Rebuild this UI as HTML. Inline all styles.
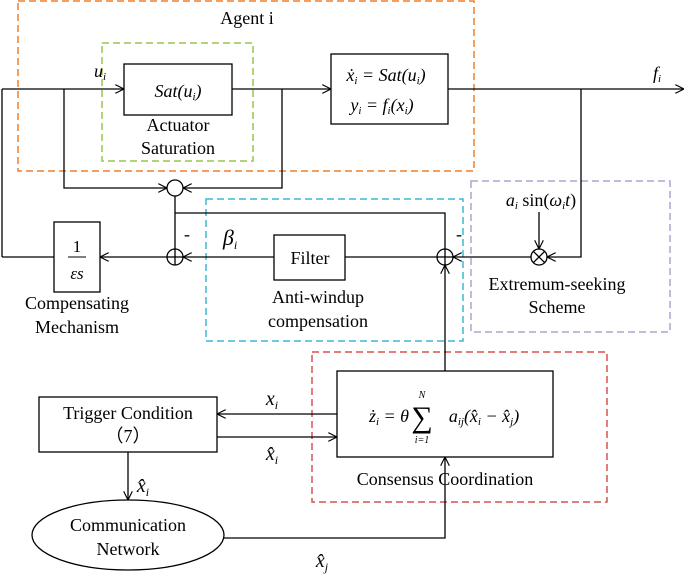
<!DOCTYPE html>
<html><head><meta charset="utf-8"><style>
html,body{margin:0;padding:0;background:#fff}
svg text{font-family:"Liberation Serif",serif;fill:#000}
</style></head><body>
<svg width="685" height="575" viewBox="0 0 685 575" xmlns="http://www.w3.org/2000/svg">
<defs>
<marker id="a" viewBox="0 0 10 10" refX="10" refY="5" markerWidth="9" markerHeight="9" orient="auto" markerUnits="userSpaceOnUse"><path d="M0,0 L10,5 L0,10" fill="none" stroke="#000" stroke-width="1.3"/></marker>
</defs>
<g fill="none" stroke-dasharray="7,4" stroke-width="1.5">
<rect x="18" y="1" width="456" height="170" stroke="#f07f2a"/>
<rect x="102" y="43" width="151" height="118" stroke="#9cc44e"/>
<rect x="206" y="199" width="257" height="142" stroke="#3fb5d4"/>
<rect x="471" y="181" width="199" height="151" stroke="#b3a2cf"/>
<rect x="312" y="352" width="295" height="150" stroke="#d9534f"/>
</g>
<g fill="none" stroke="#000" stroke-width="1.3">
<rect x="124" y="64" width="108" height="51"/>
<rect x="331" y="54" width="117" height="70"/>
<rect x="274" y="235" width="71" height="45"/>
<rect x="54" y="222" width="46" height="70"/>
<rect x="337" y="371" width="216" height="86"/>
<rect x="39" y="397" width="178" height="55"/>
<ellipse cx="128" cy="535" rx="96" ry="35"/>
<line x1="2" y1="89" x2="124" y2="89" marker-end="url(#a)"/>
<line x1="232" y1="89" x2="331" y2="89" marker-end="url(#a)"/>
<line x1="448" y1="89" x2="684" y2="89" marker-end="url(#a)"/>
<line x1="2" y1="89" x2="2" y2="257"/>
<line x1="2" y1="257" x2="54" y2="257"/>
<polyline points="64,89 64,188 167,188" marker-end="url(#a)"/>
<polyline points="282,89 282,188 183,188" marker-end="url(#a)"/>
<circle cx="175" cy="188" r="8"/>
<line x1="175" y1="196" x2="175" y2="249"/>
<polyline points="175,213 445,213 445,249"/>
<circle cx="175" cy="257" r="8"/><line x1="167" y1="257" x2="183" y2="257"/><line x1="175" y1="249" x2="175" y2="265"/>
<circle cx="445" cy="257" r="8"/><line x1="437" y1="257" x2="453" y2="257"/><line x1="445" y1="249" x2="445" y2="265"/>
<circle cx="539" cy="257" r="8"/><line x1="533.3" y1="251.3" x2="544.7" y2="262.7"/><line x1="544.7" y1="251.3" x2="533.3" y2="262.7"/>
<polyline points="581,89 581,257 547,257" marker-end="url(#a)"/>
<line x1="531" y1="257" x2="453" y2="257" marker-end="url(#a)"/>
<line x1="539" y1="212" x2="539" y2="249" marker-end="url(#a)"/>
<line x1="437" y1="257" x2="345" y2="257"/>
<line x1="274" y1="257" x2="183" y2="257" marker-end="url(#a)"/>
<line x1="167" y1="257" x2="100" y2="257" marker-end="url(#a)"/>
<line x1="445" y1="371" x2="445" y2="265" marker-end="url(#a)"/>
<line x1="337" y1="414" x2="217" y2="414" marker-end="url(#a)"/>
<line x1="217" y1="437" x2="337" y2="437" marker-end="url(#a)"/>
<line x1="128" y1="452" x2="128" y2="500" marker-end="url(#a)"/>
<polyline points="224,538 445,538 445,457" marker-end="url(#a)"/>
<line x1="68" y1="257" x2="86" y2="257" stroke-width="1"/>
</g>
<g font-size="18" text-anchor="middle">
<text x="247" y="24">Agent i</text>
<text x="178" y="97" font-style="italic">Sat(u<tspan font-size="11" dy="3">i</tspan><tspan dy="-3">)</tspan></text>
<text x="178" y="131">Actuator</text>
<text x="178" y="154">Saturation</text>
<text x="100" y="77" font-style="italic">u<tspan font-size="11" dy="3">i</tspan></text>
<text x="386" y="81" font-style="italic">ẋ<tspan font-size="11" dy="3">i</tspan><tspan dy="-3"> = Sat(u</tspan><tspan font-size="11" dy="3">i</tspan><tspan dy="-3">)</tspan></text>
<text x="382" y="111" font-style="italic">y<tspan font-size="11" dy="3">i</tspan><tspan dy="-3"> = f</tspan><tspan font-size="11" dy="3">i</tspan><tspan dy="-3">(x</tspan><tspan font-size="11" dy="3">i</tspan><tspan dy="-3">)</tspan></text>
<text x="657" y="79" font-style="italic">f<tspan font-size="11" dy="3">i</tspan></text>
<text x="541" y="206"><tspan font-style="italic">a</tspan><tspan font-size="11" dy="3" font-style="italic">i</tspan><tspan dy="-3"> sin(</tspan><tspan font-style="italic">ω</tspan><tspan font-size="11" dy="3" font-style="italic">i</tspan><tspan dy="-3" font-style="italic">t</tspan>)</text>
<text x="187" y="240">-</text>
<text x="459" y="240">-</text>
<text x="230" y="245" font-size="22" font-style="italic">β<tspan font-size="12" dy="4">i</tspan></text>
<text x="310" y="264">Filter</text>
<text x="77" y="252" font-size="17">1</text>
<text x="77" y="279" font-size="17" font-style="italic">εs</text>
<text x="77" y="309">Compensating</text>
<text x="77" y="333">Mechanism</text>
<text x="318" y="303">Anti-windup</text>
<text x="318" y="327">compensation</text>
<text x="557" y="290">Extremum-seeking</text>
<text x="557" y="313">Scheme</text>
<text x="128" y="419">Trigger Condition</text>
<text x="128" y="442" font-family="Liberation Serif,Noto Serif CJK SC,serif">（7）</text>
<text x="272" y="405" font-style="italic" font-size="20">x<tspan font-size="12" dy="4">i</tspan></text>
<text x="272" y="460" font-style="italic" font-size="20">x̂<tspan font-size="12" dy="4">i</tspan></text>
<text x="143" y="492" font-style="italic" font-size="20">x̂<tspan font-size="12" dy="4">i</tspan></text>
<text x="322" y="567" font-style="italic" font-size="20">x̂<tspan font-size="12" dy="4">j</tspan></text>
<text x="128" y="531">Communication</text>
<text x="128" y="555">Network</text>
<text x="445" y="485">Consensus Coordination</text>
<text x="389" y="422" font-style="italic">ż<tspan font-size="11" dy="3">i</tspan><tspan dy="-3"> = θ</tspan></text>
<text x="422" y="427" font-size="30">∑</text>
<text x="422" y="398" font-size="10" font-style="italic">N</text>
<text x="422" y="443" font-size="10" font-style="italic">i=1</text>
<text x="484" y="422" font-style="italic">a<tspan font-size="11" dy="3">ij</tspan><tspan dy="-3">(x̂</tspan><tspan font-size="11" dy="3">i</tspan><tspan dy="-3"> − x̂</tspan><tspan font-size="11" dy="3">j</tspan><tspan dy="-3">)</tspan></text>
</g>
</svg>
</body></html>
